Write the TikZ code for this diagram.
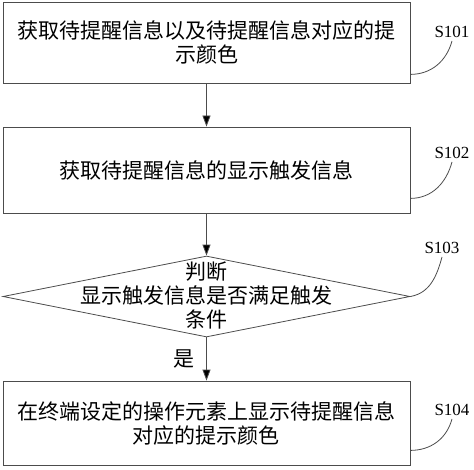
\documentclass[tikz,border=0pt]{standalone}
\usepackage{fontspec}
\newfontfamily\cjk{Noto Sans CJK SC}
\newfontfamily\stepfont{Liberation Serif}
\usetikzlibrary{arrows.meta,shapes.geometric}
\begin{document}
\begin{tikzpicture}[x=1pt,y=-1pt,
  stepbox/.style={draw=black!70,line width=0.8pt,minimum width=407pt,inner sep=0pt,
    align=center,font=\cjk\fontsize{21}{24}\selectfont},
  judgebox/.style={diamond,draw=black!70,line width=0.8pt,minimum width=407pt,
    minimum height=81pt,inner sep=0pt},
  judgetext/.style={align=center,inner sep=0pt,font=\cjk\fontsize{21}{24}\selectfont},
  steplabel/.style={font=\stepfont\fontsize{17}{20}\selectfont,inner sep=1pt},
  flow/.style={draw=black!70,line width=0.8pt,-{Triangle[length=11pt,width=8pt,fill=black]}},
  hook/.style={draw=black!70,line width=0.8pt}]
\useasboundingbox (0,0) rectangle (474,470);
% steps
\node[stepbox,minimum height=81pt] (S1) at (206.5,42.5) {获取待提醒信息以及待提醒信息对应的提\\示颜色};
\node[stepbox,minimum height=86pt] (S2) at (206.5,170) {获取待提醒信息的显示触发信息};
\node[judgebox] (S3) at (206.5,296.5) {};
\node[judgetext] (S3t) at (206.5,295) {判断\\显示触发信息是否满足触发\\条件};
\node[stepbox,minimum height=84pt] (S4) at (206.5,423) {在终端设定的操作元素上显示待提醒信息\\对应的提示颜色};
% step numbers
\node[steplabel] (L1) at (452,32) {S101};
\node[steplabel] (L2) at (452,153) {S102};
\node[steplabel] (L3) at (442,248) {S103};
\node[steplabel] (L4) at (452,410) {S104};
% arrows
\draw[flow] (S1) -- (S2);
\draw[flow] (S2) -- (S3);
\draw[flow] (S3) -- node[left,xshift=-8pt,font=\cjk\fontsize{21}{24}\selectfont] (yes) {是} (S4);
% hooks
\draw[hook] ([yshift=9pt]S1.south east) to[out=0,in=-105] ([yshift=-2pt]L1.south);
\draw[hook] ([yshift=15pt]S2.south east) to[out=0,in=-105] ([yshift=-2pt]L2.south);
\draw[hook] (S3.east) to[out=10,in=-105] ([yshift=-2pt]L3.south);
\draw[hook] ([yshift=15pt]S4.south east) to[out=0,in=-105] ([yshift=-2pt]L4.south);
\end{tikzpicture}
\end{document}
